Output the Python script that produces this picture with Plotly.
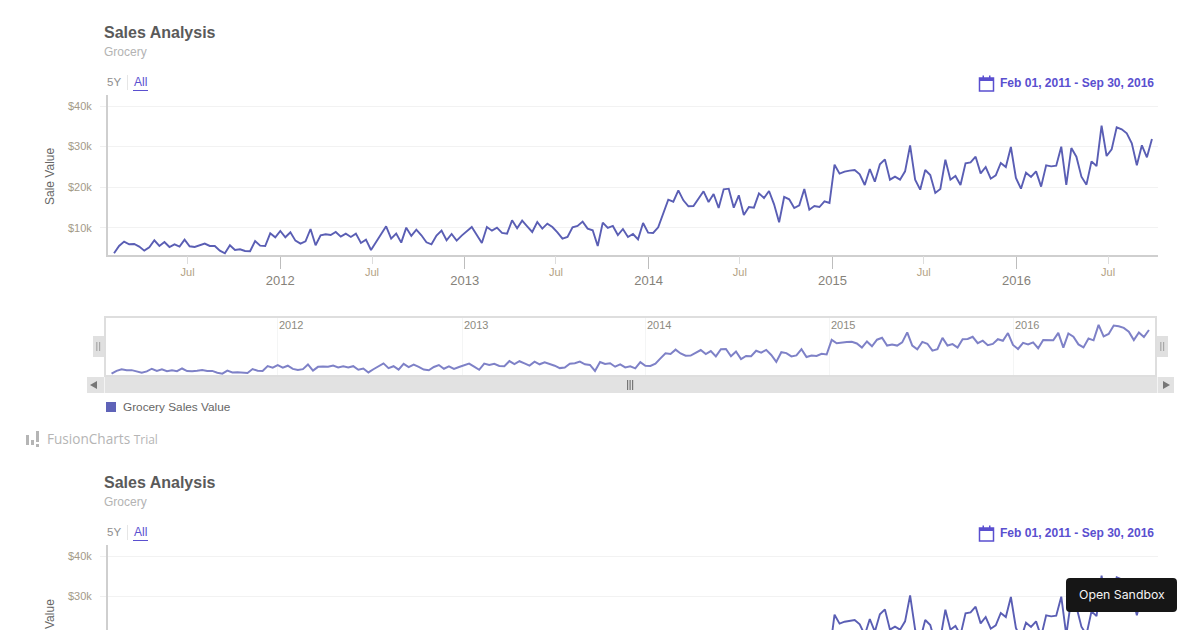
#!/usr/bin/env python3
"""
Grocery sales time series, drawn twice on the page with a navigator under the first chart
"""

from datetime import datetime, timedelta

import pandas as pd
import plotly.graph_objects as go

WIDTH = 1200
HEIGHT = 630

# One reading every ten days
sales_value = [
    3670, 5480, 6550, 5890, 5970, 5320, 4330, 5150, 6880, 5480, 6470, 5230,
    5890, 5320, 7040, 5400, 5230, 5560, 6060, 5480, 5480, 4330, 3670, 5650,
    4490, 4660, 4250, 4170, 6710, 5560, 5480, 8600, 7620, 9180, 7620, 8850,
    6800, 6060, 6630, 9670, 5650, 8110, 8360, 8190, 8930, 7780, 8520, 7700,
    8520, 6220, 7040, 4490, 6550, 8520, 10330, 7290, 8520, 6300, 10000, 7950,
    9510, 8110, 6380, 5890, 8030, 9260, 6880, 8440, 6800, 8030, 9100, 10160,
    8190, 6220, 10160, 9260, 10000, 8690, 8520, 11810, 9840, 11730, 10330, 8930,
    11400, 9750, 10990, 10160, 8850, 7290, 7700, 10080, 10410, 11480, 9750, 9340,
    5480, 11230, 9920, 10410, 8190, 9670, 7700, 8440, 7120, 11150, 8770, 8690,
    10080, 13530, 16900, 16410, 19200, 16740, 15260, 15340, 17150, 18960, 16330, 18300,
    14850, 19450, 19610, 14930, 17970, 13120, 15090, 14930, 18460, 17310, 19040, 15750,
    11310, 17560, 16980, 14850, 15510, 19530, 14440, 15340, 15090, 16490, 16080, 25530,
    23310, 23800, 24050, 24220, 23150, 20520, 24460, 21340, 25610, 26840, 21830, 22570,
    21830, 23890, 30300, 21830, 19370, 24220, 22980, 18550, 19530, 26760, 21830, 22740,
    20520, 25860, 26100, 27500, 23390, 24950, 22080, 22900, 25940, 24950, 29890, 22240,
    19610, 23560, 22490, 23890, 20110, 25370, 25120, 25280, 29970, 20520, 29640, 27500,
    22570, 20600, 26350, 25200, 35140, 27670, 29310, 34730, 34240, 33250, 30790, 25370,
    30300, 27340, 31860,
]
sale_dates = pd.date_range("2011-02-05", periods=len(sales_value), freq="10D")

year_ticks = ["2012-01-01", "2013-01-01", "2014-01-01", "2015-01-01", "2016-01-01"]
year_labels = ["2012", "2013", "2014", "2015", "2016"]
july_ticks = ["2011-07-01", "2012-07-01", "2013-07-01", "2014-07-01", "2015-07-01", "2016-07-01"]
july_labels = ["Jul"] * 6
value_ticks = [10000, 20000, 30000, 40000]
value_labels = ["$10k", "$20k", "$30k", "$40k"]
lower_value_ticks = [30000, 40000]
lower_value_labels = ["$30k", "$40k"]

LINE = "#5a5eb4"
NAV_LINE = "#7e81c7"
ACCENT = "#5a4fcf"
FONT = "Liberation Sans"


def px_x(x):
    return x / WIDTH


def px_y(y):
    return 1 - y / HEIGHT


def date_at(px, origin_px):
    """Date under a pixel, 184px to the year with 2012 starting at origin_px"""
    days = (px - origin_px) / (736 / 1461)
    return (datetime(2012, 1, 1) + timedelta(days=days)).strftime("%Y-%m-%d")


def value_range(top_px, bottom_px):
    """Value range of a plot area from its pixel edges ($40k at 11px under the top)"""
    per_px = 10000 / 40.55
    return [40000 - (bottom_px - top_px - 11) * per_px, 40000 + 11 * per_px]


def add_text(fig, x, y, text, size, color, anchor="left", bold=False, family=FONT, angle=0):
    # left-anchored annotations land a pixel to the right of x
    if anchor == "left":
        x -= 1
    fig.add_annotation(
        x=px_x(x), y=px_y(y), xref="paper", yref="paper",
        text=f"<b>{text}</b>" if bold else text,
        showarrow=False, xanchor=anchor, yanchor="middle", textangle=angle,
        borderpad=0, font=dict(size=size, color=color, family=family),
    )


def add_rect(fig, x0, y0, x1, y1, fill=None, line=None, width=0):
    fig.add_shape(
        type="rect", xref="paper", yref="paper", layer="above",
        x0=px_x(x0), y0=px_y(y0), x1=px_x(x1), y1=px_y(y1),
        fillcolor=fill if fill else "rgba(0,0,0,0)",
        line=dict(color=line if line else "rgba(0,0,0,0)", width=width),
    )


def add_path(fig, points, fill=None):
    path = "M" + " L".join(f"{px_x(x):.5f},{px_y(y):.5f}" for x, y in points) + " Z"
    fig.add_shape(
        type="path", path=path, xref="paper", yref="paper", layer="above",
        fillcolor=fill, line=dict(width=0),
    )


def add_round_rect(fig, x0, y0, x1, y1, r, fill):
    corners = [
        (x0 + r, y0), (x1 - r, y0), (x1, y0), (x1, y0 + r), (x1, y1 - r),
        (x1, y1), (x1 - r, y1), (x0 + r, y1), (x0, y1), (x0, y1 - r),
        (x0, y0 + r), (x0, y0), (x0 + r, y0),
    ]
    p = [f"{px_x(x):.5f},{px_y(y):.5f}" for x, y in corners]
    path = (f"M{p[0]} L{p[1]} Q{p[2]} {p[3]} L{p[4]} Q{p[5]} {p[6]} "
            f"L{p[7]} Q{p[8]} {p[9]} L{p[10]} Q{p[11]} {p[12]} Z")
    fig.add_shape(
        type="path", path=path, xref="paper", yref="paper", layer="above",
        fillcolor=fill, line=dict(width=0),
    )


def add_header(fig, dy):
    """Title block and range selector, same for both charts"""
    add_text(fig, 104, 32.4 + dy, "Sales Analysis", 16, "#5a5a5a", bold=True)
    add_text(fig, 104, 52 + dy, "Grocery", 12, "#b3b3b3")
    add_text(fig, 107, 82 + dy, "5Y", 11.5, "#8e8e8e")
    add_rect(fig, 127, 75 + dy, 128, 90 + dy, fill="#e6e6e6")
    add_text(fig, 134, 82 + dy, "All", 12, ACCENT)
    add_rect(fig, 133, 90 + dy, 148, 91 + dy, fill=ACCENT)
    add_text(fig, 1154.5, 83 + dy, "Feb 01, 2011 - Sep 30, 2016", 12.05, ACCENT, anchor="right", bold=True)
    # calendar icon
    add_rect(fig, 979.5, 78 + dy, 993.5, 91 + dy, line=ACCENT, width=1.5)
    add_rect(fig, 979.5, 78 + dy, 993.5, 81 + dy, fill=ACCENT)
    add_rect(fig, 982.5, 75.5 + dy, 984, 79 + dy, fill=ACCENT)
    add_rect(fig, 989, 75.5 + dy, 990.5, 79 + dy, fill=ACCENT)


def add_navigator_chrome(fig):
    add_rect(fig, 105, 317, 1156, 376, line="#dedede", width=2)
    # scrollbar
    add_rect(fig, 87, 377, 1174, 393, fill="#e2e2e2")
    add_rect(fig, 104, 377, 105, 393, fill="#f4f4f4")
    add_rect(fig, 1157, 377, 1158, 393, fill="#f4f4f4")
    add_path(fig, [(90, 385), (97, 381), (97, 389)], fill="#777777")
    add_path(fig, [(1170, 385), (1163, 381), (1163, 389)], fill="#777777")
    for x in (627, 629.5, 632):
        add_rect(fig, x, 380, x + 1.2, 390, fill="#777777")
    # drag handles
    for x in (93, 1157):
        add_rect(fig, x, 336, x + 11, 357, fill="#e0e0e0")
        add_rect(fig, x + 3.2, 342, x + 4.4, 351, fill="#a8a8a8")
        add_rect(fig, x + 6, 342, x + 7.2, 351, fill="#a8a8a8")
    for year, label in zip(year_ticks, year_labels):
        fig.add_annotation(
            x=year, y=px_y(325), xref="x3", yref="paper", text=label, showarrow=False,
            xanchor="left", yanchor="middle", xshift=0.5, borderpad=0,
            font=dict(size=11, color="#8d8a80", family=FONT),
        )


def add_page_furniture(fig):
    # legend
    add_rect(fig, 106, 402, 116, 412, fill="#5f63b8")
    add_text(fig, 123, 407, "Grocery Sales Value", 11.8, "#666666")
    # trial logo
    add_rect(fig, 26, 435, 29, 445, fill="#b5b5b5")
    add_rect(fig, 31, 440, 34, 445, fill="#b5b5b5")
    add_rect(fig, 36, 431, 39, 442, fill="#b5b5b5")
    add_rect(fig, 36, 444, 39, 447, fill="#b5b5b5")
    add_text(fig, 47, 438, "FusionCharts <span style='font-size:12px'>Trial</span>", 13.6, "#b5b5b5", family="Open Sans")
    # sandbox button
    add_round_rect(fig, 1066, 578, 1177, 612, 4, "#161616")
    add_text(fig, 1121.5, 594.5, "Open Sandbox", 12.3, "#f4f4f4", anchor="center", family="Inter")


def create_chart():
    fig = go.Figure()
    main_range = [date_at(107, 280), date_at(1158, 280)]
    nav_range = [date_at(105, 277.3), date_at(1156, 277.3)]

    fig.add_trace(go.Scatter(x=sale_dates, y=sales_value, mode="lines", xaxis="x", yaxis="y",
                             line=dict(color=LINE, width=1.9), name="Grocery Sales Value"))
    # carries the Jul axis, nothing to see
    fig.add_trace(go.Scatter(x=sale_dates, y=sales_value, mode="lines", xaxis="x2", yaxis="y",
                             line=dict(color="rgba(0,0,0,0)", width=1), hoverinfo="skip"))
    fig.add_trace(go.Scatter(x=sale_dates, y=sales_value, mode="lines", xaxis="x3", yaxis="y3",
                             line=dict(color=NAV_LINE, width=2), hoverinfo="skip"))
    fig.add_trace(go.Scatter(x=sale_dates, y=sales_value, mode="lines", xaxis="x4", yaxis="y4",
                             line=dict(color=LINE, width=1.9), hoverinfo="skip"))

    main_domain = [px_x(108), px_x(1158)]
    wide_range = [date_at(108, 280), main_range[1]]
    value_axis = dict(
        showline=True, linecolor="#cfcfcf", linewidth=2, showgrid=True, gridcolor="#f2f2f2", gridwidth=1,
        zeroline=False, ticks="outside", ticklen=6, tickcolor="#efefef", tickwidth=1,
        tickfont=dict(size=11, color="#a39a88", family=FONT), ticklabelstandoff=6,
    )

    fig.update_layout(
        width=WIDTH, height=HEIGHT, autosize=False, showlegend=False,
        margin=dict(l=0, r=0, t=0, b=0), paper_bgcolor="white", plot_bgcolor="rgba(0,0,0,0)",
        font=dict(family=FONT),
        xaxis=dict(
            domain=main_domain, anchor="y", type="date", range=wide_range,
            tickmode="array", tickvals=year_ticks, ticktext=year_labels,
            showline=True, linecolor="#cfcfcf", linewidth=2, showgrid=False, zeroline=False,
            ticks="outside", ticklen=12, tickcolor="#bdbdbd", tickwidth=1,
            tickfont=dict(size=13, color="#86827a", family=FONT), ticklabelstandoff=0,
        ),
        xaxis2=dict(
            domain=main_domain, anchor="y", overlaying="x", type="date", range=wide_range,
            tickmode="array", tickvals=july_ticks, ticktext=july_labels,
            showline=False, showgrid=False, zeroline=False,
            ticks="outside", ticklen=8, tickcolor="#dddddd", tickwidth=1,
            tickfont=dict(size=11, color="#b3a285", family=FONT), ticklabelstandoff=-1,
        ),
        yaxis=dict(
            domain=[px_y(255), px_y(95)], range=value_range(95, 255), anchor="x",
            tickmode="array", tickvals=value_ticks, ticktext=value_labels, **value_axis,
        ),
        xaxis3=dict(
            domain=[px_x(105), px_x(1156)], anchor="y3", type="date", range=nav_range,
            tickmode="array", tickvals=year_ticks, showticklabels=False, ticks="",
            showgrid=True, gridcolor="#f4f5f5", showline=False, zeroline=False,
        ),
        yaxis3=dict(
            domain=[px_y(376), px_y(318)], range=[2200, 39600], anchor="x3",
            visible=False,
        ),
        xaxis4=dict(
            domain=main_domain, anchor="y4", type="date", range=wide_range, visible=False,
        ),
        yaxis4=dict(
            domain=[0, px_y(545)], range=value_range(545, 630), anchor="x4",
            tickmode="array", tickvals=lower_value_ticks, ticktext=lower_value_labels, **value_axis,
        ),
    )

    add_header(fig, 0)
    add_header(fig, 450)
    add_text(fig, 50, 177, "Sale Value", 12, "#666666", anchor="center", angle=-90)
    add_text(fig, 50, 614, "Value", 12, "#666666", anchor="center", angle=-90)
    add_navigator_chrome(fig)
    add_page_furniture(fig)
    return fig


def main():
    fig = create_chart()
    # the page's default 8px body margin would push the figure off the window
    fig.write_html("out.html", config={"displayModeBar": False},
                   post_script="document.body.style.margin = '0';")


if __name__ == "__main__":
    main()
